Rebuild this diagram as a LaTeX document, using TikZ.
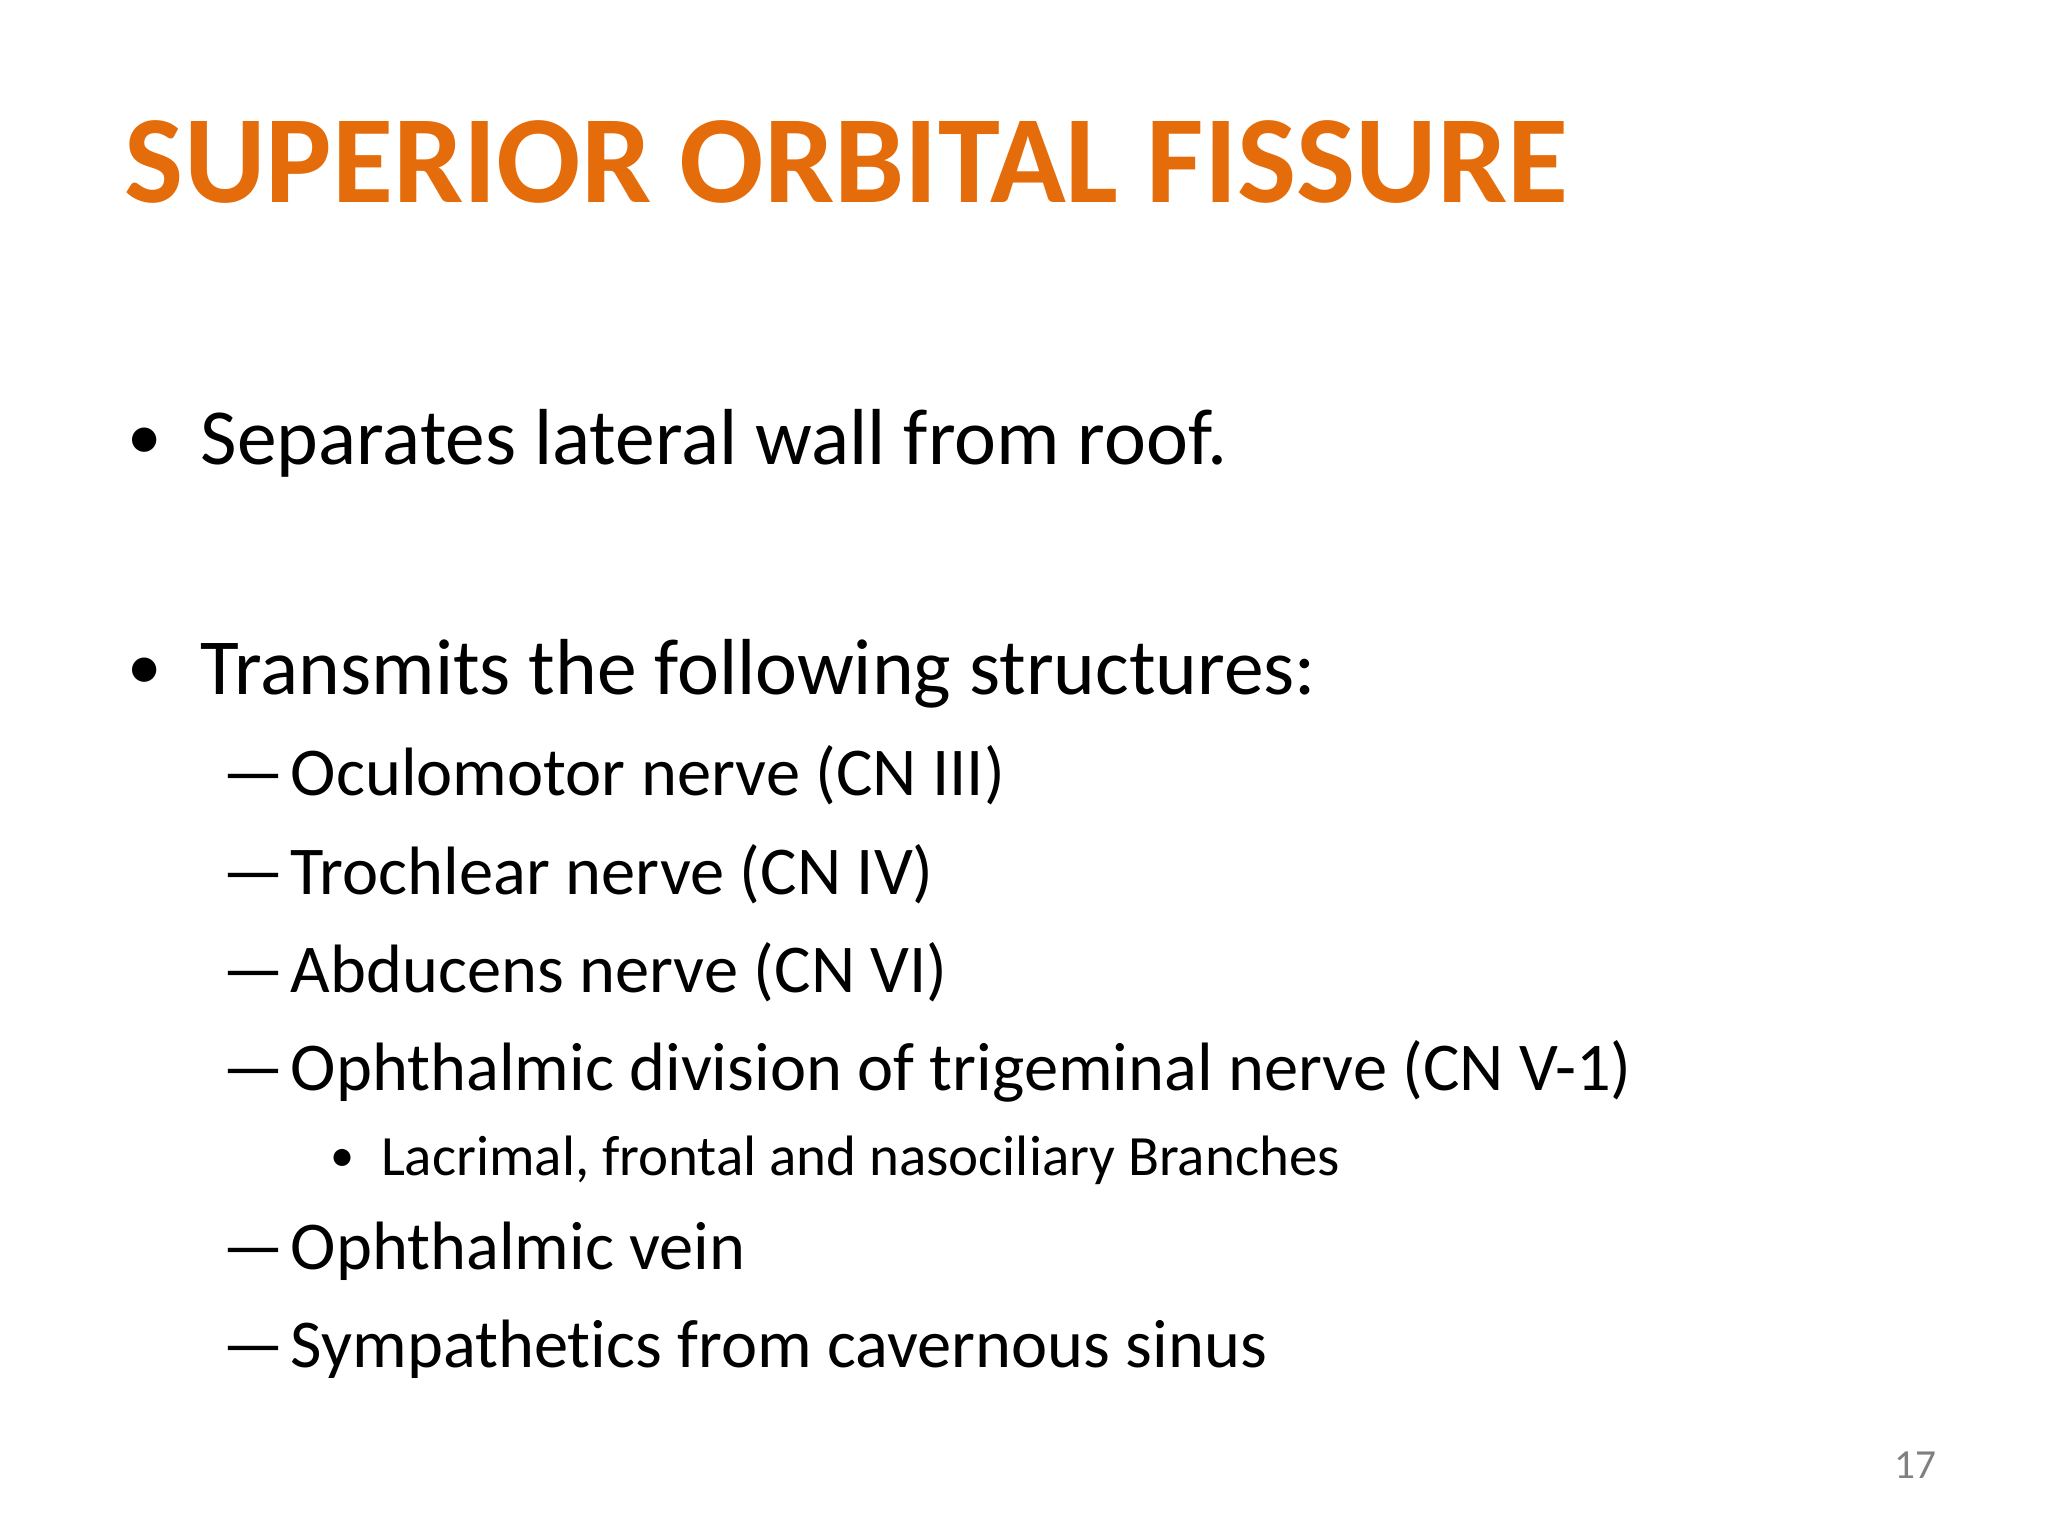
\documentclass[tikz,border=0pt]{standalone}
\usepackage{fontspec}
\setmainfont[Ligatures={NoCommon}]{Carlito}
\definecolor{ttl}{HTML}{E46C0A}
\begin{document}
\begin{tikzpicture}[x=0.01cm,y=-0.01cm,
  t/.style={anchor=base west,inner sep=0pt},
  l1/.style={t,font=\fontsize{17.3}{20}\selectfont},
  l2/.style={t,font=\fontsize{14.9}{18}\selectfont},
  l3/.style={t,font=\fontsize{12.4}{15}\selectfont}]
\useasboundingbox (0,0) rectangle (1568,1176);
\node[t,text=ttl,font=\fontsize{27.2}{32}\selectfont\bfseries] (title) at (95,155) {SUPERIOR ORBITAL FISSURE};
\node[l1,font=\fontsize{15}{18}\selectfont] (b1) at (97,352) {•};
\node[l1] (s1) at (153,356) {Separates lateral wall from roof.};
\node[l1,font=\fontsize{15}{18}\selectfont] (b2) at (97,528) {•};
\node[l1] (s2) at (153,532) {Transmits the following structures:};
\foreach \y/\txt [count=\i] in {609/Oculomotor nerve (CN III),685/Trochlear nerve (CN IV),760/Abducens nerve (CN VI),835/Ophthalmic division of trigeminal nerve (CN V-1),972/Ophthalmic vein,1047/Sympathetics from cavernous sinus}{
  \node[l2] (d\i) at (170,\y) {—};
  \node[l2] (e\i) at (222,\y) {\txt};
}
\node[l3,font=\fontsize{10.5}{13}\selectfont] (b3) at (252,897) {•};
\node[l3] (s3) at (291,900) {Lacrimal, frontal and nasociliary Branches};
\node[t,text=gray,font=\fontsize{9}{11}\selectfont] (pg) at (1450,1132) {17};
\end{tikzpicture}
\end{document}
